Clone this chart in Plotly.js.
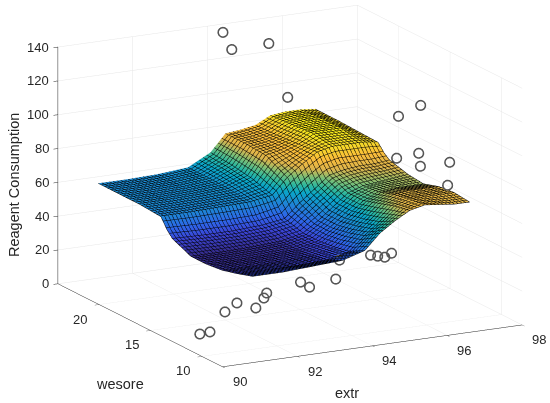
<!DOCTYPE html>
<html>
<head>
<meta charset="utf-8">
<script src="https://cdn.plot.ly/plotly-3.0.1.min.js"></script>
<style>
html,body{margin:0;padding:0;background:#fff;}
#chart{width:550px;height:403px;}
</style>
</head>
<body>
<div id="chart"></div>
<script>
// ---- surface grid (fitted Reagent Consumption) ----
const extrGrid = [90.8, 91.6, 92.4, 93.2, 93.8, 94.2, 94.6, 95.0, 95.4, 95.8, 96.2, 96.6];
const wesoreGrid = [8, 9.5, 11, 12.5, 14, 15.8, 16.3, 16.9, 19, 21, 23];
const reagentSurface = [
  [51, 51, 52, 53, 57, 66, 72, 77, 79, 78, 77, 77],
  [48, 48, 48, 49, 52, 60, 67, 75, 78, 78, 78, 78],
  [45.5, 45.5, 46, 47, 50, 57, 64, 72, 76, 77, 77, 77],
  [44.5, 44.5, 45, 46, 49, 55, 62, 69, 73, 74, 74, 74],
  [44.5, 44.5, 45, 46, 49, 55, 62, 69, 72, 73, 74, 75],
  [49.5, 49, 49, 50, 52, 60, 67, 74, 76, 77, 77, 78],
  [53, 52.5, 52.5, 53, 56, 65, 72, 78, 80, 80, 80, 80.5],
  [59, 59, 59.5, 60, 62, 71, 78, 84, 86, 86, 86, 85],
  [60, 60, 60.5, 61.5, 66, 78, 80, 83, 88, 88, 88, 85.5],
  [60, 60, 60.5, 62, 68, 79, 80, 82, 87, 88, 88, 86],
  [60, 60, 60.5, 62, 69, 79, 80, 81.5, 86, 87, 87, 86]
];

// ---- measured data points ----
const pointExtr    = [90.21, 90.48, 90.88, 91.20, 91.43, 91.92, 92.27, 92.35, 92.59, 93.29, 93.39, 94.22, 94.41, 94.60, 94.78, 95.74, 96.33, 96.10, 96.47, 96.14, 96.34, 96.52, 94.48, 94.18, 94.36, 95.35];
const pointWesore  = [11, 11, 11, 11, 10, 11, 12, 9, 9, 9, 9, 9, 9, 9, 9, 12, 12, 11, 9.5, 8.5, 14, 12.5, 18, 23.2, 23, 23];
const pointReagent = [9.6, 10.0, 20.6, 24.9, 24.3, 25.6, 24.4, 39.8, 36.1, 38.7, 49.6, 50.0, 48.8, 47.6, 49.4, 93.4, 94.5, 90.6, 96.4, 86.9, 110.2, 120.7, 114.9, 138.3, 128.2, 128.7];

// ---- axes ----
const extrTicks = [90, 92, 94, 96, 98];
const wesoreTicks = [10, 15, 20];
const reagentTicks = [0, 20, 40, 60, 80, 100, 120, 140];
const extrRange = [90, 98];
const wesoreRange = [8, 24];
const reagentRange = [0, 140];

const parula = [
  [0.00, '#352a87'], [0.10, '#3b45d6'], [0.20, '#2e66ea'], [0.33, '#1e86d6'],
  [0.45, '#0aa6c9'], [0.53, '#2db89f'], [0.62, '#7fbf75'], [0.70, '#dcb44c'],
  [0.80, '#fbbd3a'], [0.90, '#f5d72a'], [1.00, '#f9fb0e']
];

const surface = {
  type: 'surface',
  x: extrGrid, y: wesoreGrid, z: reagentSurface,
  colorscale: parula, cmin: 44, cmax: 90, showscale: false,
  lighting: {ambient: 1, diffuse: 0, specular: 0, roughness: 1, fresnel: 0},
  contours: {
    x: {show: true, start: extrGrid[0], end: extrGrid[extrGrid.length-1], size: 0.1, color: '#000', width: 1, highlight: false},
    y: {show: true, start: wesoreGrid[0], end: wesoreGrid[wesoreGrid.length-1], size: 0.3, color: '#000', width: 1, highlight: false},
    z: {show: false, highlight: false}
  },
  hoverinfo: 'skip'
};

const points = {
  type: 'scatter3d', mode: 'markers',
  x: pointExtr, y: pointWesore, z: pointReagent,
  marker: {symbol: 'circle-open', size: 6, color: '#555555', line: {width: 1, color: '#555555'}},
  hoverinfo: 'skip'
};

const tickFont = {family: 'Liberation Sans, Arial, sans-serif', size: 13, color: '#262626'};
const titleFont = {family: 'Liberation Sans, Arial, sans-serif', size: 14.5, color: '#262626'};

function axis(range, ticks) {
  return {
    range: range, tickvals: ticks, showticklabels: false,
    ticks: 'outside', ticklen: 5, tickcolor: '#262626',
    showline: true, linecolor: '#262626', linewidth: 1,
    showgrid: true, gridcolor: '#e6e6e6', gridwidth: 1,
    zeroline: false, showbackground: false, showspikes: false,
    title: {text: ''}
  };
}

const sceneAnn = [];
extrTicks.forEach(t => sceneAnn.push({x: t, y: wesoreRange[0], z: reagentRange[0], text: String(t), showarrow: false, xshift: 17, yshift: -15, font: tickFont}));
wesoreTicks.forEach(t => sceneAnn.push({x: extrRange[0], y: t, z: reagentRange[0], text: String(t), showarrow: false, xshift: -19, yshift: -14.5, font: tickFont}));
reagentTicks.forEach(t => sceneAnn.push({x: extrRange[0], y: wesoreRange[1], z: t, text: String(t), showarrow: false, xanchor: 'right', xshift: -7, yshift: 0, font: tickFont}));

const layout = {
  width: 550, height: 403,
  margin: {l: 0, r: 0, t: 0, b: 0},
  paper_bgcolor: '#fff',
  showlegend: false,
  scene: {
    domain: {x: [0.055, 1], y: [0.077, 1]},
    bgcolor: '#fff',
    xaxis: axis(extrRange, extrTicks),
    yaxis: axis(wesoreRange, wesoreTicks),
    zaxis: axis(reagentRange, reagentTicks),
    aspectmode: 'manual',
    aspectratio: {x: 1.82, y: 1.90, z: 1.32},
    camera: {
      eye: {x: -0.853, y: -1.62, z: 0.504},
      up: {x: 0, y: 0, z: 1},
      center: {x: 0, y: 0, z: 0},
      projection: {type: 'orthographic'}
    },
    annotations: sceneAnn
  },
  annotations: [
    {xref: 'paper', yref: 'paper', x: 14/550, y: 1 - 185/403, xanchor: 'center', yanchor: 'middle', text: 'Reagent Consumption', textangle: -90, showarrow: false, font: titleFont},
    {xref: 'paper', yref: 'paper', x: 120/550, y: 1 - 384/403, xanchor: 'center', yanchor: 'middle', text: 'wesore', showarrow: false, font: titleFont},
    {xref: 'paper', yref: 'paper', x: 347/550, y: 1 - 393/403, xanchor: 'center', yanchor: 'middle', text: 'extr', showarrow: false, font: titleFont}
  ]
};

Plotly.newPlot('chart', [surface, points], layout, {displayModeBar: false});
</script>
</body>
</html>
